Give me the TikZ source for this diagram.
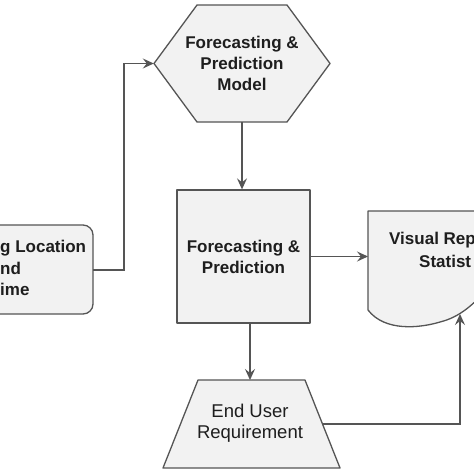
\documentclass[tikz,border=0pt]{standalone}
\usepackage{fontspec}
\setmainfont{Liberation Sans}
\usetikzlibrary{arrows.meta}
\definecolor{ln}{HTML}{555555}
\definecolor{fl}{HTML}{F2F2F2}
\definecolor{tx}{HTML}{1E1E1E}
\begin{document}
\begin{tikzpicture}[x=1pt,y=-1pt,
  shp/.style={draw=ln, fill=fl, line width=1.3pt, line join=round},
  conn/.style={draw=ln, line width=1.3pt, -{Stealth[length=11pt,width=10pt,inset=4pt]}},
  bt/.style={text=tx, font=\bfseries\fontsize{17}{21}\selectfont, align=center, inner sep=0pt},
  rt/.style={text=tx, font=\fontsize{18.5}{20.5}\selectfont, align=center, inner sep=0pt}]
\useasboundingbox (0,0) rectangle (474,474);
\clip (0,0) rectangle (474,474);
\fill[white] (0,0) rectangle (474,474);
% hexagon
\draw[shp] (154,63.5) -- (197,5) -- (287,5) -- (330,63.5) -- (287,122) -- (197,122) -- cycle;
\node[bt, minimum width=176pt, minimum height=117pt] (hex) at (242,63.5) {Forecasting \&\\Prediction\\Model};
% square
\node[shp, bt, minimum width=133pt, minimum height=133pt] (fp) at (243.5,256.5) {Forecasting \&\\Prediction};
% left rounded box
\draw[shp, rounded corners=10pt] (-30,225) rectangle (93,314);
\coordinate (loc) at (93,270);
\node[bt, align=left, anchor=west, font=\bfseries\fontsize{17}{21.5}\selectfont] (loctxt) at (0,268) {g Location\\nd\\ime};
% document
\draw[shp] (368,310) -- (368,211) -- (485,211) -- (485,292)
  .. controls (472,305) and (460,317) .. (440,322)
  .. controls (420,328) and (385,332) .. (368,310) -- cycle;
\coordinate (docw) at (368,257);
\coordinate (docb) at (460,314);
\node[bt, anchor=west] (vr1) at (389,240) {Visual Rep};
\node[bt, anchor=west] (vr2) at (419,261) {Statist};
% trapezoid
\draw[shp] (198,380) -- (305,380) -- (340,468) -- (163,468) -- cycle;
\node[rt] (tr) at (250,423) {End User\\Requirement};
\coordinate (trtop) at (250,380);
\coordinate (tre) at (322.5,424);
% connectors
\draw[conn] (hex.south) -- (hex.south |- fp.north);
\draw[conn] (trtop |- fp.south) -- (trtop);
\draw[conn] (fp.east) -- (fp.east -| docw);
\draw[conn] (loc) -- ++(31,0) |- (hex.west);
\draw[conn] (tre) -| (docb);
\end{tikzpicture}
\end{document}
